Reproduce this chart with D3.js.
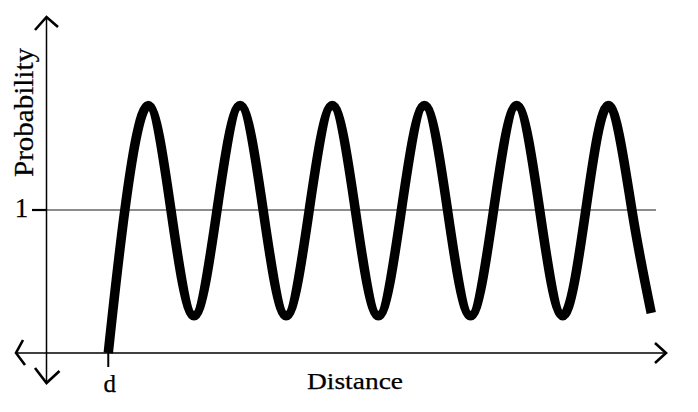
<!DOCTYPE html>
<html>
<head>
<meta charset="utf-8">
<script src="https://cdn.jsdelivr.net/npm/d3@7"></script>
<style>
  html, body { margin: 0; padding: 0; background: #fff; }
  svg { display: block; }
  text { font-family: "Liberation Serif", "Times New Roman", Times, serif; fill: #000; stroke: #000; stroke-width: 0.25px; }
</style>
</head>
<body>
<div id="chart"></div>
<script>
// values: distance (one unit = one wave) and probability (1 = grey line)
const distance = [0.67, 0.85, 1.10, 1.35, 1.60, 1.85, 2.10, 2.35, 2.60, 2.85, 3.10, 3.35, 3.60,
                  3.85, 4.10, 4.35, 4.60, 4.85, 5.10, 5.35, 5.60, 5.85, 6.10, 6.35, 6.56];
const probability = [0, 1, 1.73, 1, 0.26, 1, 1.73, 1, 0.26, 1, 1.73, 1, 0.26,
                     1, 1.73, 1, 0.26, 1, 1.73, 1, 0.26, 1, 1.73, 1, 0.28];
const refValue = 1;
const yTickLabels = ["1"];
const dLabel = "d";
const dValue = 0.67;

const width = 698, height = 412;

// origin of the axes and the extents of the arrows
const x = d3.scaleLinear().domain([0, 6.72]).range([46.5, 666]);
const y = d3.scaleLinear().domain([0, 1]).range([353, 210]);

const svg = d3.select("#chart").append("svg")
  .attr("width", width)
  .attr("height", height);

// reference line at probability 1
svg.append("line")
  .attr("x1", x(0)).attr("x2", 656)
  .attr("y1", y(refValue)).attr("y2", y(refValue))
  .attr("stroke", "#8c8c8c")
  .attr("stroke-width", 2.2);

svg.append("line")
  .attr("x1", 32).attr("x2", x(0))
  .attr("y1", y(refValue)).attr("y2", y(refValue))
  .attr("stroke", "#000")
  .attr("stroke-width", 2.2);

svg.append("text")
  .attr("x", 21.5)
  .attr("y", y(refValue) + 7)
  .attr("text-anchor", "middle")
  .style("font-size", "27px")
  .text(yTickLabels[0]);

// axes
const axisTop = 17, axisBottom = 383, axisLeft = 16, axisRight = x.range()[1];

svg.append("line")
  .attr("x1", x(0)).attr("x2", x(0))
  .attr("y1", axisTop).attr("y2", axisBottom)
  .attr("stroke", "#000").attr("stroke-width", 1.5);

svg.append("line")
  .attr("x1", axisLeft).attr("x2", axisRight)
  .attr("y1", y(0)).attr("y2", y(0))
  .attr("stroke", "#000").attr("stroke-width", 1.5);

// arrow heads as open chevrons
const arrows = [
  [[x(0) - 11.5, axisTop + 13], [x(0), axisTop], [x(0) + 11.5, axisTop + 10]],
  [[x(0) - 11.5, axisBottom - 15], [x(0), axisBottom], [x(0) + 13, axisBottom - 12]],
  [[axisLeft + 7, y(0) - 13], [axisLeft, y(0)], [axisLeft + 9, y(0) + 12]],
  [[axisRight - 11, y(0) - 10], [axisRight, y(0)], [axisRight - 11, y(0) + 10]]
];

svg.selectAll(".arrow")
  .data(arrows)
  .enter().append("path")
    .attr("class", "arrow")
    .attr("d", d3.line())
    .attr("fill", "none")
    .attr("stroke", "#000")
    .attr("stroke-width", 2.6);

// tick at d
svg.append("line")
  .attr("x1", x(dValue)).attr("x2", x(dValue))
  .attr("y1", y(0)).attr("y2", y(0) + 14)
  .attr("stroke", "#000").attr("stroke-width", 2);

svg.append("text")
  .attr("x", x(dValue) + 1.5)
  .attr("y", 392)
  .attr("text-anchor", "middle")
  .style("font-size", "25px")
  .text(dLabel);

// axis titles
svg.append("text")
  .attr("x", 307)
  .attr("y", 389)
  .attr("textLength", 96)
  .attr("lengthAdjust", "spacingAndGlyphs")
  .style("font-size", "24px")
  .text("Distance");

svg.append("text")
  .attr("transform", "translate(33,177) rotate(-90)")
  .attr("textLength", 129)
  .attr("lengthAdjust", "spacingAndGlyphs")
  .style("font-size", "28px")
  .text("Probability");

// the curve
const points = distance.map((d, i) => [d, probability[i]]);

const curve = d3.line()
  .x(d => x(d[0]))
  .y(d => y(d[1]))
  .curve(d3.curveNatural);

svg.append("path")
  .datum(points)
  .attr("d", curve)
  .attr("fill", "none")
  .attr("stroke", "#000")
  .attr("stroke-width", 9.5)
  .attr("stroke-linecap", "butt")
  .attr("stroke-linejoin", "round");
</script>
</body>
</html>
